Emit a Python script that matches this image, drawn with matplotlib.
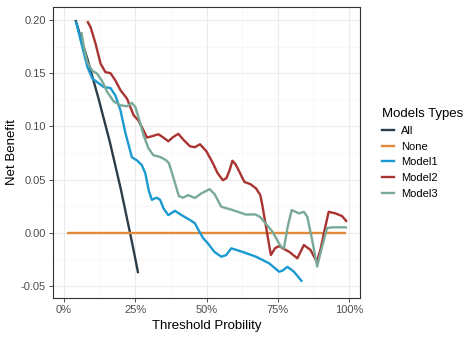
import matplotlib
matplotlib.use("Agg")
import matplotlib.pyplot as plt
from matplotlib.lines import Line2D

plt.rcParams['font.family'] = ['Liberation Sans', 'DejaVu Sans']

# ---- data ----
all_x = [0.04, 0.08, 0.12, 0.16, 0.20, 0.24, 0.26]
all_y = [0.200, 0.165, 0.127, 0.086, 0.040, -0.011, -0.038]

none_x = [0.01, 0.99]
none_y = [0.0, 0.0]

m1_x = [0.041, 0.0815, 0.099, 0.139, 0.163, 0.180, 0.198, 0.215, 0.238, 0.256, 0.273,
        0.285, 0.297, 0.308, 0.325, 0.337, 0.349, 0.366, 0.389, 0.4125, 0.442, 0.459,
        0.471, 0.488, 0.505, 0.528, 0.552, 0.569, 0.587, 0.627, 0.674, 0.720, 0.755,
        0.767, 0.784, 0.807, 0.836]
m1_y = [0.199, 0.156, 0.145, 0.137, 0.136, 0.129, 0.115, 0.094, 0.071, 0.068, 0.0635,
        0.056, 0.040, 0.031, 0.033, 0.031, 0.023, 0.0166, 0.0206, 0.0166, 0.012, 0.009,
        0.003, -0.005, -0.010, -0.018, -0.0225, -0.021, -0.0146, -0.018, -0.0225, -0.0287,
        -0.0366, -0.0356, -0.032, -0.0366, -0.046]

m2_x = [0.0815, 0.093, 0.1105, 0.128, 0.145, 0.163, 0.180, 0.198, 0.221, 0.244, 0.261,
        0.279, 0.291, 0.308, 0.331, 0.347, 0.366, 0.382, 0.401, 0.4205, 0.442, 0.459,
        0.477, 0.4997, 0.523, 0.539, 0.5575, 0.570, 0.581, 0.591, 0.602, 0.616, 0.633,
        0.654, 0.674, 0.689, 0.696, 0.709, 0.726, 0.741, 0.755, 0.769, 0.790, 0.819,
        0.842, 0.8655, 0.887, 0.900, 0.912, 0.929, 0.953, 0.976, 0.993]
m2_y = [0.1989, 0.1932, 0.1777, 0.159, 0.151, 0.150, 0.1432, 0.134, 0.126, 0.1105, 0.1055,
        0.0962, 0.0895, 0.0907, 0.0926, 0.0898, 0.086, 0.0898, 0.093, 0.087, 0.0813, 0.0804,
        0.0832, 0.0766, 0.0651, 0.0560, 0.0494, 0.0513, 0.0588, 0.0677, 0.0644, 0.0570, 0.0478,
        0.0457, 0.0417, 0.0354, 0.026, 0.0056, -0.0209, -0.0144, -0.0125, -0.0148, -0.0178, -0.024,
        -0.0115, -0.0162, -0.0272, -0.0162, -0.0006, 0.0197, 0.0182, 0.0157, 0.0103]

m3_x = [0.0606, 0.0697, 0.0815, 0.099, 0.116, 0.134, 0.151, 0.174, 0.198, 0.221, 0.238,
        0.250, 0.261, 0.279, 0.296, 0.3136, 0.337, 0.358, 0.368, 0.383, 0.403, 0.418,
        0.4355, 0.459, 0.482, 0.511, 0.5285, 0.552, 0.587, 0.639, 0.671, 0.689, 0.709,
        0.732, 0.748, 0.761, 0.772, 0.784, 0.799, 0.813, 0.825, 0.842, 0.854, 0.871,
        0.8885, 0.906, 0.923, 0.941, 0.993]
m3_y = [0.1886, 0.1742, 0.1601, 0.1523, 0.1495, 0.1423, 0.1325, 0.1235, 0.1198, 0.1189, 0.1221,
        0.1182, 0.1088, 0.0917, 0.0795, 0.0729, 0.0713, 0.0682, 0.0654, 0.0525, 0.0344, 0.033,
        0.0354, 0.0327, 0.037, 0.041, 0.0363, 0.0244, 0.0218, 0.0171, 0.0173, 0.0147, 0.0082,
        0.0009, -0.0068, -0.0129, -0.0146, 0.0044, 0.0213, 0.0197, 0.0182, 0.0197, 0.015, -0.0068,
        -0.0317, -0.0131, 0.0044, 0.0051, 0.0051]

series = ["All", "None", "Model1", "Model2", "Model3"]
colors = ["#2B3D4A", "#E08A3C", "#1A9AD0", "#A83330", "#79A998"]

x_ticks = [0, 0.25, 0.5, 0.75, 1.0]
x_ticklabels = ["0%", "25%", "50%", "75%", "100%"]
y_ticks = [-0.05, 0.0, 0.05, 0.10, 0.15, 0.20]
y_ticklabels = ["-0.05", "0.00", "0.05", "0.10", "0.15", "0.20"]

fig = plt.figure(figsize=(4.74, 3.38), dpi=100)
ax = fig.add_axes([53/474, 1-298/338, (360-53)/474, (298-7)/338])

data = [(all_x, all_y), (none_x, none_y), (m1_x, m1_y), (m2_x, m2_y), (m3_x, m3_y)]
for (xs, ys), c, name in zip(data, colors, series):
    ax.plot(xs, ys, color=c, lw=1.7, label=name, solid_capstyle='butt')

ax.set_xlim(-0.039, 1.039)
ax.set_ylim(-0.0613, 0.2122)
ax.set_xticks(x_ticks)
ax.set_xticklabels(x_ticklabels)
ax.set_yticks(y_ticks)
ax.set_yticklabels(y_ticklabels)
ax.set_xticks([0.125, 0.375, 0.625, 0.875], minor=True)
ax.set_yticks([-0.025, 0.025, 0.075, 0.125, 0.175], minor=True)
ax.grid(True, which='major', color='#EBEBEB', lw=0.8)
ax.grid(True, which='minor', color='#F5F5F5', lw=0.5)
ax.set_axisbelow(True)
ax.tick_params(which='minor', length=0)
ax.tick_params(which='major', length=3, width=0.6, color='#333333',
               labelsize=8, labelcolor='#4D4D4D', pad=2)
for s in ax.spines.values():
    s.set_color('#333333')
    s.set_linewidth(0.8)

ax.set_xlabel("Threshold Probility", fontsize=9.5, labelpad=4)
ax.set_ylabel("Net Benefit", fontsize=9.5, labelpad=2)

handles = [Line2D([0], [0], color=c, lw=1.7) for c in colors]
leg = fig.legend(handles, series, title="Models Types", loc='upper left',
                 bbox_to_anchor=(372/474, 1-98/338), frameon=False,
                 fontsize=8, title_fontsize=9.5, handlelength=1.1,
                 handletextpad=0.6, labelspacing=0.52, alignment='left')

fig.savefig("out.png", dpi=100)
